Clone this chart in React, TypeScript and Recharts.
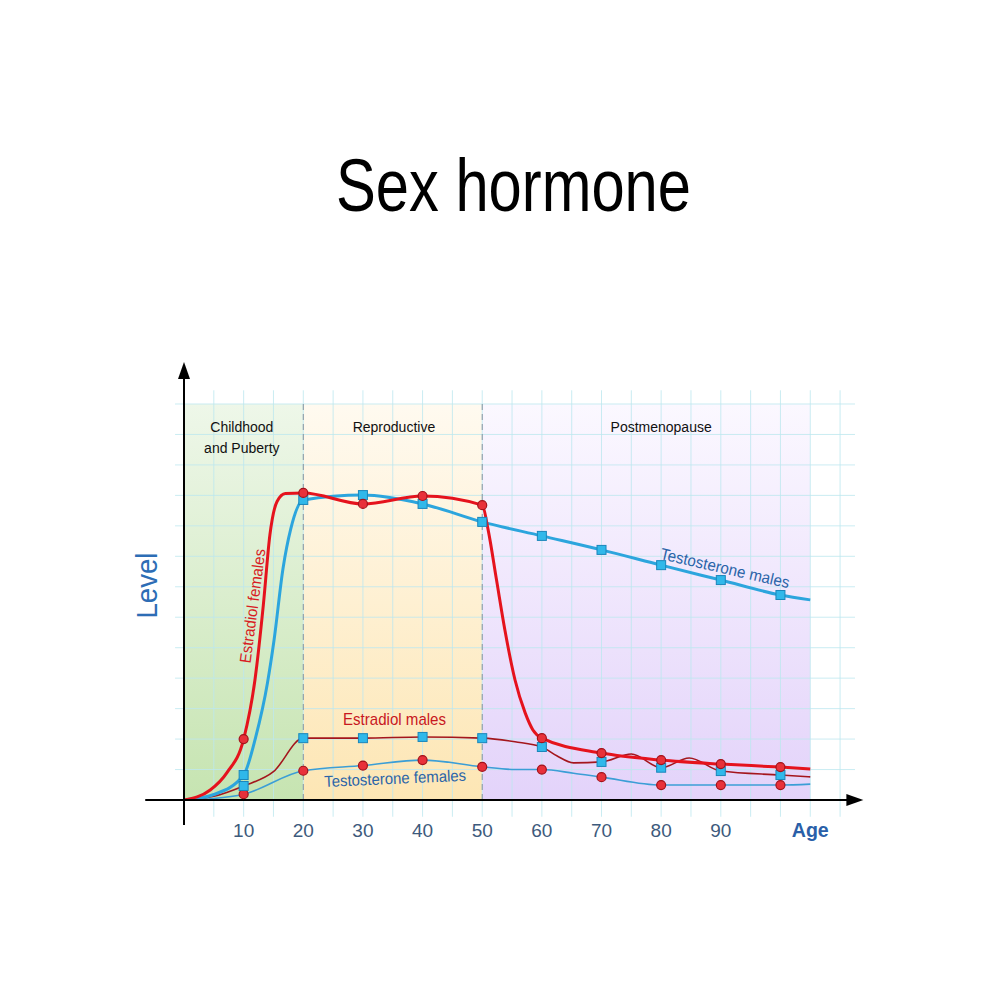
import React from 'react';
import { LineChart, Line, XAxis, YAxis, ReferenceArea, ReferenceLine, ReferenceDot } from 'recharts';

const FONT = '"Liberation Sans", Arial, Helvetica, sans-serif';

// age ticks under the axis, grid steps, ages that carry a marker
const ageTicks = [10, 20, 30, 40, 50, 60, 70, 80, 90];
const markerAges = [10, 20, 30, 40, 50, 60, 70, 80, 90, 100];
const gridAges = [0, 5, 10, 15, 20, 25, 30, 35, 40, 45, 50, 55, 60, 65, 70, 75, 80, 85, 90, 95, 100, 105, 110];
const gridLevels = [1, 2, 3, 4, 5, 6, 7, 8, 9, 10, 11, 12, 13];

// life stages
const stages = [
  { name: 'childhood', from: 0, to: 20, fill: 'url(#gGreen)' },
  { name: 'reproductive', from: 20, to: 50, fill: 'url(#gOrange)' },
  { name: 'postmenopause', from: 50, to: 105, fill: 'url(#gPurple)' },
];

// series (level in grid units)
const estradiolFemales = [
  { age: 0, level: 0 }, { age: 4.4, level: 0.33 }, { age: 7.2, level: 0.9 }, { age: 10, level: 2.0 },
  { age: 11.9, level: 3.95 }, { age: 13.3, level: 6.4 }, { age: 14.4, level: 8.7 }, { age: 15.6, level: 9.8 },
  { age: 17, level: 10.06 }, { age: 20, level: 10.08 }, { age: 30, level: 9.72 }, { age: 40, level: 9.98 },
  { age: 50, level: 9.68 }, { age: 51, level: 8.86 }, { age: 52.4, level: 7.22 }, { age: 53.8, level: 5.58 },
  { age: 55.5, level: 3.94 }, { age: 57.2, level: 2.86 }, { age: 58.5, level: 2.3 }, { age: 60, level: 2.03 },
  { age: 70, level: 1.54 }, { age: 80, level: 1.31 }, { age: 90, level: 1.18 }, { age: 100, level: 1.08 },
  { age: 105, level: 1.02 },
];

const testosteroneMales = [
  { age: 0, level: 0 }, { age: 5, level: 0.18 }, { age: 10, level: 0.82 }, { age: 12, level: 2.05 },
  { age: 14, level: 3.85 }, { age: 15.1, level: 5.25 }, { age: 16.6, level: 7.6 }, { age: 17.9, level: 8.9 },
  { age: 20, level: 9.85 }, { age: 30, level: 10.01 }, { age: 40, level: 9.72 }, { age: 50, level: 9.13 },
  { age: 60, level: 8.67 }, { age: 70, level: 8.21 }, { age: 80, level: 7.71 }, { age: 90, level: 7.22 },
  { age: 100, level: 6.73 }, { age: 105, level: 6.57 },
];

const estradiolMales = [
  { age: 0, level: 0 }, { age: 5, level: 0.12 }, { age: 10, level: 0.46 }, { age: 15, level: 0.93 },
  { age: 20, level: 2.03 }, { age: 30, level: 2.03 }, { age: 40, level: 2.07 }, { age: 50, level: 2.03 },
  { age: 55.5, level: 1.91 }, { age: 60, level: 1.74 }, { age: 62.5, level: 1.45 }, { age: 65.3, level: 1.22 },
  { age: 70, level: 1.25 }, { age: 75, level: 1.51 }, { age: 80, level: 1.06 }, { age: 84.7, level: 1.38 },
  { age: 90, level: 0.95 }, { age: 100, level: 0.82 }, { age: 105, level: 0.76 },
];

const testosteroneFemales = [
  { age: 0, level: 0 }, { age: 5, level: 0.05 }, { age: 10, level: 0.19 }, { age: 20, level: 0.96 },
  { age: 30, level: 1.13 }, { age: 40, level: 1.31 }, { age: 50, level: 1.09 }, { age: 55.5, level: 1.0 },
  { age: 60, level: 1.0 }, { age: 65.3, level: 0.88 }, { age: 70, level: 0.75 }, { age: 80, level: 0.49 },
  { age: 90, level: 0.49 }, { age: 100, level: 0.49 }, { age: 105, level: 0.52 },
];

// text placed on the chart
const labels = [
  { text: 'Childhood', age: 9.7, level: 12.08, color: '#111', size: 14 },
  { text: 'and Puberty', age: 9.7, level: 11.39, color: '#111', size: 14 },
  { text: 'Reproductive', age: 35.2, level: 12.08, color: '#111', size: 14 },
  { text: 'Postmenopause', age: 80, level: 12.08, color: '#111', size: 14 },
  { text: 'Estradiol females', age: 11.5, level: 6.37, color: '#d81c24', size: 16, width: 115, angle: -82.5, center: true },
  { text: 'Testosterone males', age: 90.7, level: 7.61, color: '#2a64a8', size: 16, width: 132, angle: 12.9, center: true },
  { text: 'Estradiol males', age: 35.3, level: 2.64, color: '#c8181f', size: 17, width: 103, angle: 0, center: true },
  { text: 'Testosterone females', age: 35.4, level: 0.71, color: '#2a64a8', size: 16, width: 142, angle: -2.5, center: true },
  { text: 'Level', age: -6.3, level: 7.04, color: '#2d6db5', size: 30, width: 66, angle: -90, center: true },
  { text: 'Age', age: 105, level: -1.2, color: '#2a5fa8', size: 21, width: 37, bold: true },
];

const TextShape = ({ cx, cy, item }: any) => (
  <text
    x={cx}
    y={cy}
    textAnchor="middle"
    dominantBaseline={item.center ? 'central' : 'auto'}
    fontFamily={FONT}
    fontSize={item.size}
    fontWeight={item.bold ? 'bold' : 'normal'}
    fill={item.color}
    textLength={item.width}
    lengthAdjust={item.width ? 'spacingAndGlyphs' : undefined}
    transform={item.angle ? `rotate(${item.angle} ${cx} ${cy})` : undefined}
  >
    {item.text}
  </text>
);

const makeDot = (kind: 'circle' | 'square') => (props: any) => {
  const { cx, cy, payload, index } = props;
  if (!markerAges.includes(payload.age)) return <g key={index} />;
  if (kind === 'circle') {
    return <circle key={index} cx={cx} cy={cy} r={4.5} fill="#e8313a" stroke="#a3121a" strokeWidth={1.2} />;
  }
  return <rect key={index} x={cx - 4.5} y={cy - 4.5} width={9} height={9} fill="#30b8ea" stroke="#1b86ba" strokeWidth={1} />;
};

const AgeTick = ({ x, y, payload }: any) => (
  <text x={x} y={y + 37} textAnchor="middle" fontFamily={FONT} fontSize={19} fill="#3d5a7c">
    {payload.value}
  </text>
);

const ArrowUp = ({ cx, cy }: any) => (
  <polygon points={`${cx},${cy} ${cx - 6},${cy + 17} ${cx + 6},${cy + 17}`} fill="#000" />
);
const ArrowRight = ({ cx, cy }: any) => (
  <polygon points={`${cx},${cy} ${cx - 17},${cy - 6} ${cx - 17},${cy + 6}`} fill="#000" />
);

export default function App() {
  return (
    <div style={{ position: 'absolute', left: 0, top: 0, width: 992, height: 992, background: '#fff' }}>
      <svg width={992} height={300} style={{ position: 'absolute', left: 0, top: 0 }}>
        <text x={513.5} y={210.5} textAnchor="middle" fontFamily={FONT} fontSize={74} fill="#000"
          textLength={355} lengthAdjust="spacingAndGlyphs">
          Sex hormone
        </text>
      </svg>
      <div style={{ position: 'absolute', left: 0, top: 0 }}>
        <LineChart width={992} height={992} margin={{ top: 404, right: 137, bottom: 162, left: 184 }}>
          <defs>
            <linearGradient id="gGreen" x1="0" y1="0" x2="0" y2="1">
              <stop offset="0%" stopColor="#eef7e9" />
              <stop offset="100%" stopColor="#c6e4b1" />
            </linearGradient>
            <linearGradient id="gOrange" x1="0" y1="0" x2="0" y2="1">
              <stop offset="0%" stopColor="#fffaf0" />
              <stop offset="100%" stopColor="#fde6b4" />
            </linearGradient>
            <linearGradient id="gPurple" x1="0" y1="0" x2="0" y2="1">
              <stop offset="0%" stopColor="#fbf8ff" />
              <stop offset="100%" stopColor="#e3d3fa" />
            </linearGradient>
          </defs>
          <XAxis
            type="number"
            dataKey="age"
            domain={[0, 112.5]}
            allowDataOverflow
            ticks={ageTicks}
            axisLine={false}
            tickLine={false}
            tickSize={0}
            tickMargin={0}
            height={30}
            tick={<AgeTick />}
          />
          <YAxis type="number" domain={[0, 13]} allowDataOverflow hide />

          {stages.map((s) => (
            <ReferenceArea key={s.name} x1={s.from} x2={s.to} y1={0} y2={13} fill={s.fill} fillOpacity={1} stroke="none" />
          ))}

          {gridAges.map((a) => (
            <ReferenceLine key={`gx${a}`} segment={[{ x: a, y: -0.55 }, { x: a, y: 13.45 }]}
              stroke="#bde7ef" strokeOpacity={0.8} strokeWidth={1} ifOverflow="visible" />
          ))}
          {gridLevels.map((l) => (
            <ReferenceLine key={`gy${l}`} segment={[{ x: -1.5, y: l }, { x: 112.5, y: l }]}
              stroke="#bde7ef" strokeOpacity={0.8} strokeWidth={1} ifOverflow="visible" />
          ))}
          {[20, 50].map((a) => (
            <ReferenceLine key={`sep${a}`} segment={[{ x: a, y: 0 }, { x: a, y: 13 }]}
              stroke="#8693a0" strokeDasharray="6 4" strokeWidth={1} ifOverflow="visible" />
          ))}

          <Line data={testosteroneFemales} dataKey="level" type="monotone" stroke="#3b9ed6" strokeWidth={1.6}
            dot={makeDot('circle')} activeDot={false} isAnimationActive={false} />
          <Line data={estradiolMales} dataKey="level" type="monotone" stroke="#a4161d" strokeWidth={1.6}
            dot={makeDot('square')} activeDot={false} isAnimationActive={false} />
          <Line data={testosteroneMales} dataKey="level" type="monotone" stroke="#2ca5dd" strokeWidth={3}
            dot={makeDot('square')} activeDot={false} isAnimationActive={false} />
          <Line data={estradiolFemales} dataKey="level" type="monotone" stroke="#e5131d" strokeWidth={3}
            dot={makeDot('circle')} activeDot={false} isAnimationActive={false} />

          <ReferenceLine segment={[{ x: 0, y: -0.82 }, { x: 0, y: 14 }]} stroke="#000" strokeWidth={2} ifOverflow="visible" />
          <ReferenceLine segment={[{ x: -6.5, y: 0 }, { x: 113, y: 0 }]} stroke="#000" strokeWidth={2} ifOverflow="visible" />
          <ReferenceDot x={0} y={14.38} ifOverflow="visible" shape={<ArrowUp />} />
          <ReferenceDot x={113.9} y={0} ifOverflow="visible" shape={<ArrowRight />} />

          {labels.map((item) => (
            <ReferenceDot key={item.text} x={item.age} y={item.level} ifOverflow="visible"
              shape={(p: any) => <TextShape cx={p.cx} cy={p.cy} item={item} />} />
          ))}
        </LineChart>
      </div>
    </div>
  );
}
